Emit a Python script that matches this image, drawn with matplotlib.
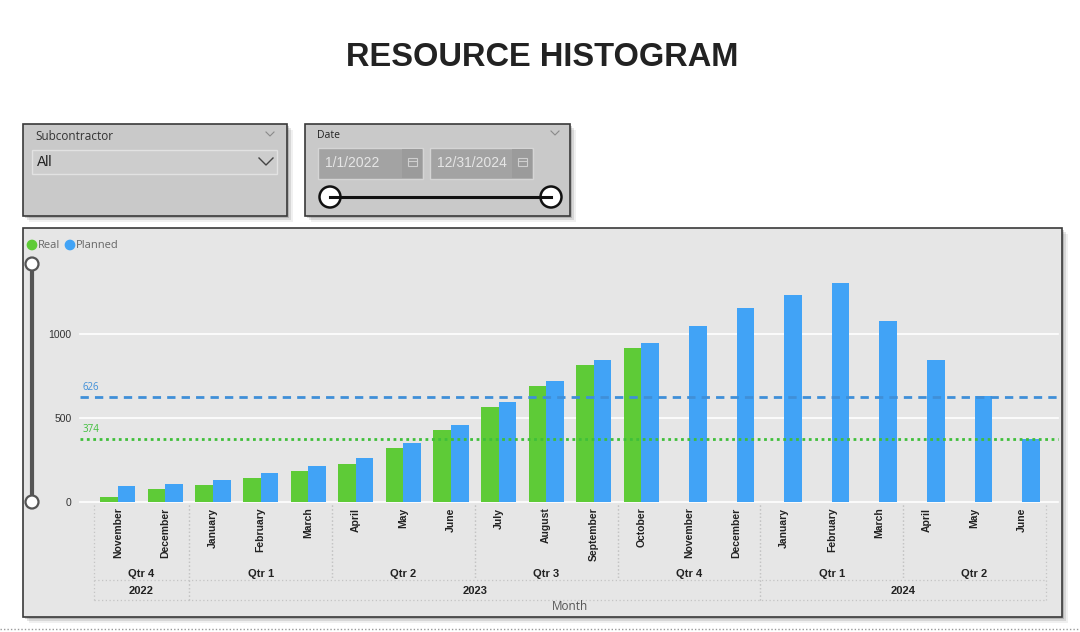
import numpy as np
import matplotlib.pyplot as plt
from matplotlib.patches import Rectangle, Circle
from matplotlib.transforms import blended_transform_factory

# data
months = ['November', 'December', 'January', 'February', 'March', 'April', 'May', 'June',
          'July', 'August', 'September', 'October', 'November', 'December',
          'January', 'February', 'March', 'April', 'May', 'June']
real = [30, 77, 103, 141, 184, 228, 319, 428, 567, 690, 813, 915] + [np.nan] * 8
planned = [93, 109, 133, 170, 214, 260, 349, 458, 595, 718, 847, 945,
           1050, 1153, 1234, 1304, 1079, 848, 630, 374]
avg_real = 374
avg_planned = 626

# quarter / year groups as (label, first index, last index)
quarters = [('Qtr 4', 0, 1), ('Qtr 1', 2, 4), ('Qtr 2', 5, 7), ('Qtr 3', 8, 10),
            ('Qtr 4', 11, 13), ('Qtr 1', 14, 16), ('Qtr 2', 17, 19)]
years = [('2022', 0, 1), ('2023', 2, 13), ('2024', 14, 19)]

GREEN = '#5ecb37'
BLUE = '#41a3f6'
FONT = 'Liberation Sans'
UI = 'Open Sans'

fig = plt.figure(figsize=(10.8, 6.32), dpi=100)
fig.patch.set_facecolor('white')

# overlay in pixel coordinates for the report furniture
over = fig.add_axes([0, 0, 1, 1], zorder=0)
over.set_xlim(0, 1080)
over.set_ylim(632, 0)
over.axis('off')


def card(x0, y0, x1, y1, fc):
    for d, a in [(6, 0.06), (4, 0.10), (2, 0.16)]:
        over.add_patch(Rectangle((x0 + d, y0 + d), x1 - x0, y1 - y0, fc='black',
                                 ec='none', alpha=a))
    over.add_patch(Rectangle((x0, y0), x1 - x0, y1 - y0, fc=fc, ec='#3a3a3a', lw=1.2))


over.text(542, 57, 'RESOURCE HISTOGRAM', ha='center', va='center', fontsize=23.5,
          fontweight='bold', family=FONT, color='#222222')

# subcontractor slicer
card(23, 124, 287, 216, '#c9c9c9')
over.text(35, 136, 'Subcontractor', fontsize=8.5, family=UI, color='#333333', va='center')
over.plot([266, 270, 274], [132, 136, 132], color='#8a8a8a', lw=0.8)
over.add_patch(Rectangle((32, 150), 245, 24, fc='#cdcdcd', ec='#e2e2e2', lw=1))
over.text(37, 162, 'All', fontsize=10, family=FONT, color='#222222', va='center')
over.plot([259, 266, 273], [158, 165, 158], color='#444444', lw=1)

# date slicer
card(305, 124, 570, 216, '#c9c9c9')
over.text(317, 135, 'Date', fontsize=7.5, family=UI, color='#222222', va='center')
over.plot([551, 555, 559], [131, 135, 131], color='#8a8a8a', lw=0.8)
for x0, x1, txt in [(318, 423, '1/1/2022'), (430, 533, '12/31/2024')]:
    over.add_patch(Rectangle((x0, 148), x1 - x0, 31, fc='#a3a3a3', ec='#d5d5d5', lw=1))
    over.add_patch(Rectangle((x1 - 21, 149), 20, 29, fc='#9b9b9b', ec='none'))
    over.text(x0 + 7, 163, txt, fontsize=10, family=FONT, color='#e6e6e6', va='center')
    over.add_patch(Rectangle((x1 - 15, 158), 9, 8, fc='none', ec='#cfcfcf', lw=0.8))
    over.plot([x1 - 15, x1 - 6], [160.5, 160.5], color='#cfcfcf', lw=0.8)
over.plot([330, 551], [197, 197], color='#111111', lw=2.2)
for cx in (330, 551):
    over.add_patch(Circle((cx, 197), 10.5, fc='white', ec='#111111', lw=1.8))

# chart panel
card(23, 228, 1062, 617, '#e6e6e6')
over.scatter([32, 70], [245, 245], s=45, c=[GREEN, BLUE], zorder=3)
over.text(38, 245, 'Real', fontsize=8, family=UI, color='#666666', va='center')
over.text(76, 245, 'Planned', fontsize=8, family=UI, color='#666666', va='center')
over.plot([32, 32], [264, 502], color='#555555', lw=3, zorder=3)
for cy in (264, 502):
    over.add_patch(Circle((32, cy), 6.5, fc='white', ec='#555555', lw=1.6, zorder=4))

# page edge
over.plot([0, 1080], [629, 629], color='#9a9a9a', lw=1, ls=(0, (1, 1.5)))

# main plot
ax = fig.add_axes([94 / 1080, (632 - 502) / 632, 952 / 1080, (502 - 264) / 632], zorder=2)
ax.patch.set_alpha(0)
x = np.arange(len(months))
w = 0.37
ax.bar(x - w / 2, real, w, color=GREEN, zorder=3)
ax.bar(x + w / 2, planned, w, color=BLUE, zorder=3)
ax.set_xlim(-0.5, len(months) - 0.5)
ax.set_ylim(0, 1417)

xl, xr = (80 - 94) / 952, (1058 - 94) / 952
for v in (0, 500, 1000):
    ax.axhline(v, xmin=xl, xmax=xr, color='white', lw=1.2, zorder=1, clip_on=False)
ax.axhline(avg_planned, xmin=xl, xmax=xr, color='#3f8fd8', lw=2, ls=(0, (3, 2.2)),
           zorder=4, clip_on=False)
ax.axhline(avg_real, xmin=xl, xmax=xr, color='#3fbf3a', lw=2, ls=(0, (1, 1.3)),
           zorder=4, clip_on=False)
ax.annotate(str(avg_planned), xy=(xl, avg_planned), xycoords=('axes fraction', 'data'),
            xytext=(2, 3), textcoords='offset points', fontsize=7, family=UI,
            color='#3f8fd8', va='bottom')
ax.annotate(str(avg_real), xy=(xl, avg_real), xycoords=('axes fraction', 'data'),
            xytext=(2, 3), textcoords='offset points', fontsize=7, family=UI,
            color='#3fbf3a', va='bottom')

for s in ax.spines.values():
    s.set_visible(False)
ax.set_yticks([0, 500, 1000])
ax.tick_params(axis='y', length=0, pad=16, labelsize=7.5, labelcolor='#333333')
ax.set_xticks(x)
ax.set_xticklabels(months, rotation=90, fontsize=7.5, fontweight='bold', family=FONT,
                   color='#222222')
ax.tick_params(axis='x', length=0, pad=4)
for lab in ax.get_yticklabels():
    lab.set_family(FONT)

# hierarchy labels under the months: x from data, y in pixels
tr = blended_transform_factory(ax.transData, over.transData)
sep = dict(color='#c4c4c4', lw=0.9, ls=(0, (1, 2)), transform=tr, clip_on=False)
year_edges = set()
for _, a, b in years:
    year_edges.update([a - 0.5, b + 0.5])
for lab, a, b in quarters:
    over.text((a + b) / 2, 574, lab, transform=tr, ha='center', va='center',
              fontsize=8, fontweight='bold', family=FONT, color='#222222')
    for e in (a - 0.5, b + 0.5):
        over.plot([e, e], [505, 600 if e in year_edges else 580], **sep)
for lab, a, b in years:
    over.text((a + b) / 2, 591, lab, transform=tr, ha='center', va='center',
              fontsize=8, fontweight='bold', family=FONT, color='#222222')
over.plot([-0.5, len(months) - 0.5], [580, 580], **sep)
over.plot([-0.5, len(months) - 0.5], [600, 600], **sep)
over.text((len(months) - 1) / 2, 607, 'Month', transform=tr, ha='center', va='center',
          fontsize=8.5, family=UI, color='#555555')

fig.savefig('out.png', dpi=100)
